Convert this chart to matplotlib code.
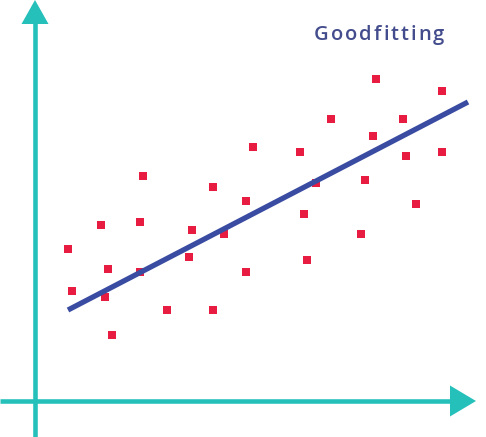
import matplotlib
matplotlib.use("Agg")
import matplotlib.pyplot as plt
from matplotlib.patches import Polygon

# Data (origin at axes intersection)
x_pts = [33, 37, 66, 70, 73, 77, 105, 105, 108, 132, 154, 157, 178, 178, 189, 211,
         211, 218, 265, 269, 272, 281, 296, 326, 330, 338, 341, 368, 371, 381, 407, 407]
y_pts = [152, 110, 176, 104, 132, 66, 179, 129, 225, 91, 144, 171, 214, 91, 167, 200,
         129, 254, 249, 187, 141, 218, 282, 167, 221, 265, 322, 282, 245, 197, 310, 249]
fit_x = [33, 433]
fit_y = [91, 299]
title = "Goodfitting"

TEAL = "#26C0BB"
RED = "#E81C40"
BLUE = "#3A4CA2"
TITLE_C = "#434C8C"

W, H = 486, 437
fig = plt.figure(figsize=(W / 100, H / 100), dpi=100)
ax = fig.add_axes([0, 0, 1, 1])
ax.set_xlim(-35, 451)
ax.set_ylim(-36, 401)
ax.axis("off")

# axes shafts
ax.plot([0, 0], [-36, 378], color=TEAL, lw=3.3, solid_capstyle="butt", zorder=1)
ax.plot([-35, 416], [0, 0], color=TEAL, lw=3.3, solid_capstyle="butt", zorder=1)
# arrow heads
ax.add_patch(Polygon([[-13.5, 377], [13.5, 377], [0, 401]], closed=True,
                     facecolor=TEAL, edgecolor="none", zorder=2))
ax.add_patch(Polygon([[415, 15.5], [415, -15.5], [441, 0]], closed=True,
                     facecolor=TEAL, edgecolor="none", zorder=2))

ax.scatter(x_pts, y_pts, marker="s", s=40, color=RED, linewidths=0, zorder=3)
ax.plot(fit_x, fit_y, color=BLUE, lw=3.8, solid_capstyle="butt", zorder=4)

# letter-spaced title
fig.canvas.draw()
renderer = fig.canvas.get_renderer()
x_px = 314
y_px = H - 40
spacing = 2.0
for ch in title:
    t = fig.text(x_px / W, y_px / H, ch, fontsize=14.5, family="Open Sans",
                 fontweight="semibold", color=TITLE_C, ha="left", va="baseline")
    bb = t.get_window_extent(renderer)
    x_px += bb.width + spacing

fig.savefig("out.png", dpi=100)
